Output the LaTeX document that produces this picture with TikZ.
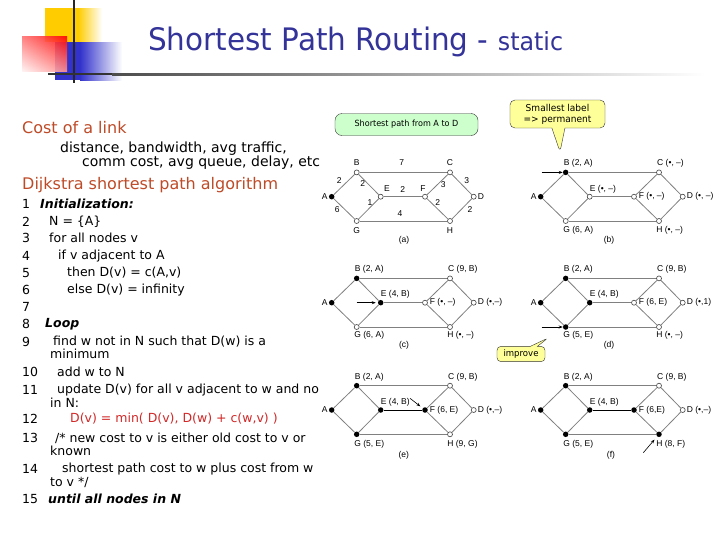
\documentclass[tikz,border=0pt]{standalone}
\usepackage{fontspec}
\setmainfont{DejaVu Sans}
\newfontfamily\headfont[FakeStretch=0.95]{DejaVu Sans}
\newfontfamily\figfont{Liberation Sans}
\usetikzlibrary{arrows.meta,calc,positioning,shapes.callouts,shadings}

\definecolor{titleblue}{RGB}{51,51,153}
\definecolor{rust}{RGB}{190,75,40}
\definecolor{codered}{RGB}{210,40,40}
\definecolor{logoyellow}{RGB}{255,204,0}
\definecolor{logoblue}{RGB}{51,51,204}
\definecolor{notegreen}{RGB}{204,255,204}
\definecolor{noteyellow}{RGB}{255,255,153}

\tikzset{
  ring/.style={circle,draw=black!75,fill=white,line width=0.6pt,inner sep=0pt,minimum size=5pt},
  dot/.style={circle,fill=black,inner sep=0pt,minimum size=5.5pt},
  link/.style={draw=black!50,line width=0.8pt},
  hotlink/.style={draw=black,line width=1pt},
  lbl/.style={font=\figfont\fontsize{8.5}{10}\selectfont,inner sep=1pt},
  ptr/.style={-{Stealth[length=4pt,width=3pt]},line width=0.6pt},
  codeline/.style={anchor=west,inner sep=0pt,font=\fontsize{12.5}{14}\selectfont},
  note/.style={draw=black!80,font=\headfont\fontsize{9.5}{11}\selectfont,align=center},
}

\begin{document}
\begin{tikzpicture}[x=1pt,y=-1pt]
\useasboundingbox (0,0) rectangle (728,546);
\fill[white] (0,0) rectangle (728,546);

% logo
\fill[logoyellow] (45,8) rectangle (78,42);
\shade[left color=logoyellow,right color=white] (78,8) rectangle (102,42);
\fill[logoblue] (55,42) rectangle (80,80);
\shade[left color=logoblue,right color=white] (80,42) rectangle (122,80);
\shade[upper right=red,lower left=red!5,upper left=red!55,lower right=red!45,opacity=0.9] (22,36) rectangle (67,71);
\draw[line width=2pt,black!85] (74,0) -- (74,83);
\fill[black!80] (48,72.8) rectangle (112,75.2);
\shade[left color=black!70,right color=white] (112,73) rectangle (705,75);

% title
\node[anchor=base west,inner sep=0pt,text=titleblue,font=\headfont\fontsize{31}{33}\selectfont] (title) at (148,50) {Shortest Path Routing - {\fontsize{25}{27}\selectfont static}};

% text on the left
\node[anchor=west,inner sep=0pt,text=rust,font=\fontsize{16}{18}\selectfont] (cost) at (22,128) {Cost of a link};
\node[anchor=west,inner sep=0pt,font=\fontsize{14}{16}\selectfont] (cost1) at (60,149) {distance, bandwidth, avg traffic,};
\node[anchor=west,inner sep=0pt,font=\fontsize{14}{16}\selectfont] (cost2) at (82,163) {comm cost, avg queue, delay, etc};
\node[anchor=west,inner sep=0pt,text=rust,font=\fontsize{16}{18}\selectfont] (algo) at (22,185) {Dijkstra shortest path algorithm};

\foreach \n/\y in {1/204,2/222,3/238,4/256,5/273,6/290,7/307,8/324,9/342,10/372,11/390,12/419,13/438,14/469,15/499}
  \node[codeline] (n\n) at (22,\y) {\n};
\node[codeline] (t1) at (40,204) {\textbf{\textit{Initialization:}}};
\node[codeline] (t2) at (49,222) {N = \{A\}};
\node[codeline] (t3) at (49,238) {for all nodes v};
\node[codeline] (t4) at (58,256) {if v adjacent to A};
\node[codeline] (t5) at (67,273) {then D(v) = c(A,v)};
\node[codeline] (t6) at (67,290) {else D(v) = infinity};
\node[codeline] (t8) at (45,324) {\textbf{\textit{Loop}}};
\node[codeline] (t9) at (53,342) {find w not in N such that D(w) is a};
\node[codeline] (t9b) at (50,354) {minimum};
\node[codeline] (t10) at (57,372) {add w to N};
\node[codeline] (t11) at (57,390) {update D(v) for all v adjacent to w and no};
\node[codeline] (t11b) at (50,403) {in N:};
\node[codeline,text=codered] (t12) at (70,419) {D(v) = min( D(v), D(w) + c(w,v) )};
\node[codeline] (t13) at (55,438) {/* new cost to v is either old cost to v or};
\node[codeline] (t13b) at (50,451) {known};
\node[codeline] (t14) at (62,469) {shortest path cost to w plus cost from w};
\node[codeline] (t14b) at (50,482) {to v */};
\node[codeline] (t15) at (48,499) {\textbf{\textit{until all nodes in N}}};

% (a)
\begin{scope}[shift={(331.7,196.7)}]
  \node[dot] (aA) at (0,0) {};
  \node[ring] (aB) at (25,-24.3) {};
  \node[ring] (aE) at (49,0) {};
  \node[ring] (aG) at (25,24.3) {};
  \node[ring] (aF) at (93.3,0) {};
  \node[ring] (aC) at (118.3,-24.3) {};
  \node[ring] (aD) at (142,0) {};
  \node[ring] (aH) at (118.3,24.3) {};
  \foreach \u/\v in {A/B,A/G,B/E,G/E,B/C,E/F,G/H,C/F,F/H,C/D,H/D}
    \draw[link] (a\u) -- (a\v);
  \node[lbl,anchor=east] at (-3,0) {A};
  \node[lbl] at (25,-34) {B};
  \node[lbl] at (118.3,-34) {C};
  \node[lbl,anchor=west] at (145,0) {D};
  \node[lbl] at (55.3,-7.7) {E};
  \node[lbl] at (91.3,-7.7) {F};
  \node[lbl] at (25,34.3) {G};
  \node[lbl] at (118.3,34.3) {H};
  \node[lbl] at (72.3,44) {(a)};
  \node[lbl] at (70,-34) {7};
  \node[lbl] at (7.6,-15.7) {2};
  \node[lbl] at (31,-13.4) {2};
  \node[lbl] at (71,-7.4) {2};
  \node[lbl] at (5.6,13.3) {6};
  \node[lbl] at (38.3,6) {1};
  \node[lbl] at (68.3,17.3) {4};
  \node[lbl] at (111.6,-12.4) {3};
  \node[lbl] at (135,-15.7) {3};
  \node[lbl] at (106,6) {2};
  \node[lbl] at (138.3,13.3) {2};
\end{scope}

% (b)
\begin{scope}[shift={(540.7,196.7)}]
  \node[dot] (bA) at (0,0) {};
  \node[dot] (bB) at (25,-24.3) {};
  \node[ring] (bE) at (49,0) {};
  \node[ring] (bG) at (25,24.3) {};
  \node[ring] (bF) at (93.3,0) {};
  \node[ring] (bC) at (118.3,-24.3) {};
  \node[ring] (bD) at (142,0) {};
  \node[ring] (bH) at (118.3,24.3) {};
  \foreach \u/\v in {A/B,A/G,B/E,G/E,B/C,E/F,G/H,C/F,F/H,C/D,H/D}
    \draw[link] (b\u) -- (b\v);
  \coordinate (bin) at (1,-24.3);
  \draw[ptr] (bin) -- (bB);
  \node[lbl,anchor=east] at (-3,0) {A};
  \node[lbl,anchor=west] at (22,-33) {B (2, A)};
  \node[lbl,anchor=west] at (115.3,-33) {C (•, –)};
  \node[lbl,anchor=west] at (48,-7.5) {E (•, –)};
  \node[lbl,anchor=west] at (97,0) {F (•, –)};
  \node[lbl,anchor=west] at (145,0) {D (•, –)};
  \node[lbl,anchor=west] at (21.5,34) {G (6, A)};
  \node[lbl,anchor=west] at (114.5,34) {H (•, –)};
  \node[lbl] at (68.3,44) {(b)};
\end{scope}

% (c)
\begin{scope}[shift={(331.7,302.7)}]
  \node[dot] (cA) at (0,0) {};
  \node[dot] (cB) at (25,-24.3) {};
  \node[dot] (cE) at (49,0) {};
  \node[ring] (cG) at (25,24.3) {};
  \node[ring] (cF) at (93.3,0) {};
  \node[ring] (cC) at (118.3,-24.3) {};
  \node[ring] (cD) at (142,0) {};
  \node[ring] (cH) at (118.3,24.3) {};
  \foreach \u/\v in {A/B,A/G,B/E,G/E,B/C,E/F,G/H,C/F,F/H,C/D,H/D}
    \draw[link] (c\u) -- (c\v);
  \coordinate (cin) at (25,0);
  \draw[ptr,shorten >=2pt] (cin) -- (cE);
  \node[lbl,anchor=east] at (-3,0) {A};
  \node[lbl,anchor=west] at (22,-33) {B (2, A)};
  \node[lbl,anchor=west] at (115.3,-33) {C (9, B)};
  \node[lbl,anchor=west] at (48,-8) {E (4, B)};
  \node[lbl,anchor=west] at (97,0) {F (•, –)};
  \node[lbl,anchor=west] at (145,0) {D (•,–)};
  \node[lbl,anchor=west] at (21.5,33) {G (6, A)};
  \node[lbl,anchor=west] at (114.5,33) {H (•, –)};
  \node[lbl] at (72.3,42.5) {(c)};
\end{scope}

% (d)
\begin{scope}[shift={(540.7,302.7)}]
  \node[dot] (dA) at (0,0) {};
  \node[dot] (dB) at (25,-24.3) {};
  \node[dot] (dE) at (49,0) {};
  \node[dot] (dG) at (25,24.3) {};
  \node[ring] (dF) at (93.3,0) {};
  \node[ring] (dC) at (118.3,-24.3) {};
  \node[ring] (dD) at (142,0) {};
  \node[ring] (dH) at (118.3,24.3) {};
  \foreach \u/\v in {A/B,A/G,B/E,G/E,B/C,E/F,G/H,C/F,F/H,C/D,H/D}
    \draw[link] (d\u) -- (d\v);
  \coordinate (din) at (1,24.3);
  \draw[ptr] (din) -- (dG);
  \node[lbl,anchor=east] at (-3,0) {A};
  \node[lbl,anchor=west] at (22,-33) {B (2, A)};
  \node[lbl,anchor=west] at (115.3,-33) {C (9, B)};
  \node[lbl,anchor=west] at (48,-8) {E (4, B)};
  \node[lbl,anchor=west] at (97,0) {F (6, E)};
  \node[lbl,anchor=west] at (145,0) {D (•,1)};
  \node[lbl,anchor=west] at (21.5,33) {G (5, E)};
  \node[lbl,anchor=west] at (114.5,33) {H (•, –)};
  \node[lbl] at (68.3,42.5) {(d)};
\end{scope}

% (e)
\begin{scope}[shift={(331.7,410)}]
  \node[dot] (eA) at (0,0) {};
  \node[dot] (eB) at (25,-24.3) {};
  \node[dot] (eE) at (49,0) {};
  \node[dot] (eG) at (25,24.3) {};
  \node[dot] (eF) at (93.3,0) {};
  \node[ring] (eC) at (118.3,-24.3) {};
  \node[ring] (eD) at (142,0) {};
  \node[ring] (eH) at (118.3,24.3) {};
  \foreach \u/\v in {A/B,A/G,B/E,G/E,B/C,G/H,C/F,F/H,C/D,H/D}
    \draw[link] (e\u) -- (e\v);
  \draw[hotlink] (eE) -- (eF);
  \coordinate (ein) at (78.3,-11.7);
  \draw[ptr,shorten >=3pt] (ein) -- (eF);
  \node[lbl,anchor=east] at (-3,0) {A};
  \node[lbl,anchor=west] at (22,-33) {B (2, A)};
  \node[lbl,anchor=west] at (115.3,-33) {C (9, B)};
  \node[lbl,anchor=west] at (48,-8) {E (4, B)};
  \node[lbl,anchor=west] at (97,0) {F (6, E)};
  \node[lbl,anchor=west] at (145,0) {D (•,–)};
  \node[lbl,anchor=west] at (21.5,34) {G (5, E)};
  \node[lbl,anchor=west] at (114.5,34) {H (9, G)};
  \node[lbl] at (72,45) {(e)};
\end{scope}

% (f)
\begin{scope}[shift={(540.7,410)}]
  \node[dot] (fA) at (0,0) {};
  \node[dot] (fB) at (25,-24.3) {};
  \node[dot] (fE) at (49,0) {};
  \node[dot] (fG) at (25,24.3) {};
  \node[dot] (fF) at (93.3,0) {};
  \node[ring] (fC) at (118.3,-24.3) {};
  \node[ring] (fD) at (142,0) {};
  \node[dot] (fH) at (118.3,24.3) {};
  \foreach \u/\v in {A/B,A/G,B/E,G/E,B/C,G/H,C/F,F/H,C/D,H/D}
    \draw[link] (f\u) -- (f\v);
  \draw[hotlink] (fE) -- (fF);
  \coordinate (fin) at (102.6,42.7);
  \draw[ptr,shorten >=4pt] (fin) -- (fH);
  \node[lbl,anchor=east] at (-3,0) {A};
  \node[lbl,anchor=west] at (22,-33) {B (2, A)};
  \node[lbl,anchor=west] at (115.3,-33) {C (9, B)};
  \node[lbl,anchor=west] at (48,-8) {E (4, B)};
  \node[lbl,anchor=west] at (97,0) {F (6,E)};
  \node[lbl,anchor=west] at (145,0) {D (•,–)};
  \node[lbl,anchor=west] at (21.5,34) {G (5, E)};
  \node[lbl,anchor=west] at (114.5,34) {H (8, F)};
  \node[lbl] at (70.3,45) {(f)};
\end{scope}

% notes
\node[note,fill=notegreen,rounded corners=7pt,minimum width=143pt,minimum height=22pt,font=\headfont\fontsize{8.5}{10}\selectfont] (goal) at (406.5,124.5) {Shortest path from A to D};
\node[note,rectangle callout,fill=noteyellow,rounded corners=5pt,minimum width=95pt,minimum height=28pt,
  callout absolute pointer={(560,152)},callout pointer width=13pt] (perm) at (557.5,114) {Smallest label\\=> permanent};
\node[note,rectangle callout,fill=noteyellow,rounded corners=4pt,minimum width=48pt,minimum height=15pt,
  callout absolute pointer={(548,338)},callout pointer width=7pt,font=\headfont\fontsize{9}{10}\selectfont] (impr) at (521,354) {improve};

\end{tikzpicture}
\end{document}
